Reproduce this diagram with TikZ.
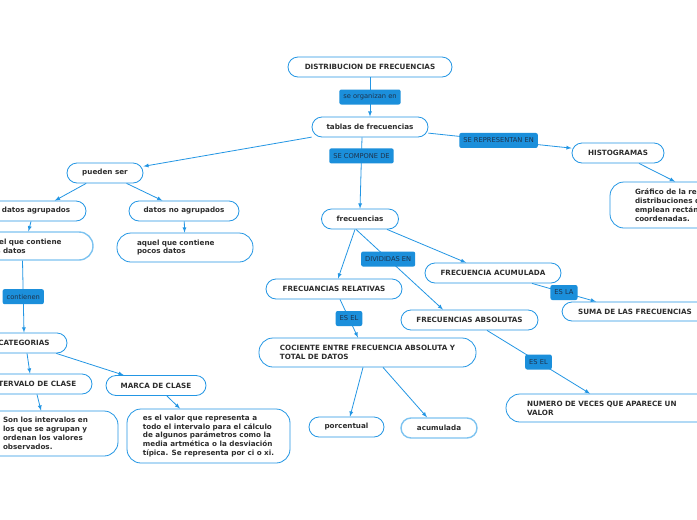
\documentclass[tikz,border=0pt]{standalone}
\usepackage{fontspec}
\setmainfont{DejaVu Sans}
\usetikzlibrary{arrows}

\definecolor{mapblue}{RGB}{35,150,228}
\definecolor{tagblue}{RGB}{27,143,219}
\definecolor{paleblue}{RGB}{125,195,240}
\definecolor{tagtext}{RGB}{30,50,75}
\definecolor{boxtext}{RGB}{45,45,45}

\tikzset{
	concept/.style={draw=mapblue, line width=0.8pt, rounded corners=10pt, fill=white, text=boxtext,
		font=\fontsize{7.2}{8.8}\selectfont\bfseries, minimum height=20pt, inner xsep=6pt, inner ysep=0pt},
	note/.style={concept, rounded corners=14pt, align=left},
	faded/.style={draw=paleblue, line width=1.4pt},
	tag/.style={fill=tagblue, rounded corners=2pt, text=tagtext, font=\fontsize{6.7}{8}\selectfont,
		minimum height=15pt, inner xsep=4pt, inner ysep=0pt},
	link/.style={draw=mapblue, line width=0.8pt, -latex},
}

\begin{document}
\begin{tikzpicture}[x=1pt, y=-1pt]

	\useasboundingbox (0,0) rectangle (697,520);
	\clip (0,0) rectangle (697,520);
	\fill[white] (0,0) rectangle (697,520);

	%% top
	\node[concept, minimum width=164pt] (dist) at (370,67) {DISTRIBUCION DE FRECUENCIAS};
	\node[concept, minimum width=116pt] (tablas) at (370,127) {tablas de frecuencias};

	%% left branch
	\node[concept, minimum width=76pt] (pueden) at (105,173) {pueden ser};
	\node[concept, minimum width=100pt] (agrup) at (36,211) {datos agrupados};
	\node[concept, minimum width=110pt] (noagrup) at (184,211) {datos no agrupados};
	\node[note, faded, minimum width=129pt, minimum height=28pt, text width=89pt] (muchos) at (28.5,246) {aquel que contiene\\más datos};
	\node[note, minimum width=136pt, minimum height=29pt, text width=96pt] (pocos) at (185,247.5) {aquel que contiene\\pocos datos};
	\node[concept, minimum width=86pt] (categ) at (24,343) {CATEGORIAS};
	\node[concept, minimum width=118pt] (interv) at (33,384) {INTERVALO DE CLASE};
	\node[concept, minimum width=100pt] (marca) at (156,385.5) {MARCA DE CLASE};
	\node[note, minimum width=135pt, minimum height=45pt, text width=95pt] (son) at (50.5,433.5) {Son los intervalos en\\los que se agrupan y\\ordenan los valores\\observados.};
	\node[note, minimum width=163pt, minimum height=54pt] (valor) at (208.5,436) {es el valor que representa a\\todo el intervalo para el cálculo\\de algunos parámetros como la\\media artmética o la desviación\\típica. Se representa por ci o xi.};

	%% middle
	\node[concept, minimum width=77pt] (frec) at (360,219) {frecuencias};
	\node[concept, minimum width=136pt] (relat) at (334,289) {FRECUANCIAS RELATIVAS};
	\node[concept, minimum width=136pt] (acum) at (493,273) {FRECUENCIA ACUMULADA};
	\node[concept, minimum width=137pt] (absol) at (469.5,320) {FRECUENCIAS ABSOLUTAS};
	\node[note, minimum width=217pt, minimum height=29pt] (cociente) at (367.5,352.5) {COCIENTE ENTRE FRECUENCIA ABSOLUTA Y\\TOTAL DE DATOS};
	\node[concept, minimum width=75pt] (porcent) at (346.5,427) {porcentual};
	\node[concept, faded, minimum width=76pt] (acumul) at (439,428) {acumulada};

	%% right
	\node[concept, minimum width=92pt] (histo) at (618,153) {HISTOGRAMAS};
	\node[note, minimum width=200pt, minimum height=46pt, text width=150pt] (grafico) at (710,205) {Gráfico de la representación de\\distribuciones de frecuencias en\\emplean rectángulos dentro de unas\\coordenadas.};
	\node[concept, minimum width=146pt, minimum height=19pt] (suma) at (635,311.5) {SUMA DE LAS FRECUENCIAS};
	\node[note, minimum width=222pt, minimum height=28pt, text width=180pt] (numero) at (617,408) {NUMERO DE VECES QUE APARECE UN\\VALOR};

	%%%%%%%%%%%%%%%%%%%%%%%%%%%%%%%%%%%%%%%%%%%%%%%%%%%%%%%
	%% links
	\draw[link] (dist) -- node[tag] {se organizan en} (tablas);
	\draw[link] ([xshift=-8pt]tablas.south) -- node[tag, pos=.26] {SE COMPONE DE} (frec.north);
	\draw[link] (tablas) -- node[tag, pos=.49] {SE REPRESENTAN EN} (histo);
	\draw[link] (tablas) -- (pueden);

	\draw[link] (pueden) -- (agrup);
	\draw[link] (pueden) -- (noagrup);
	\draw[link] ([xshift=-5pt]agrup.south) -- (muchos.north);
	\draw[link] (noagrup) -- (pocos);
	\draw[link] ([xshift=-6pt]muchos.south) -- node[tag] {contienen} (categ.north);
	\draw[link] ([xshift=3pt]categ.south) -- ([xshift=-3pt]interv.north);
	\draw[link] (categ) -- (marca);
	\draw[link] ([xshift=4pt]interv.south) -- ([xshift=-9.5pt]son.north);
	\draw[link] (marca) -- (valor);

	\draw[link] ([xshift=-5pt]frec.south) -- ([xshift=4pt]relat.north);
	\draw[link] ([xshift=-4pt]frec.south) -- node[tag, pos=.37] {DIVIDIDAS EN} ([xshift=-26.5pt]absol.north);
	\draw[link] ([xshift=27pt]frec.south) -- ([xshift=-27pt]acum.north);
	\draw[link] ([xshift=6pt]relat.south) -- node[tag] {ES EL} ([xshift=-9.5pt]cociente.north);
	\draw[link] ([xshift=-4.5pt]cociente.south) -- ([xshift=3.5pt]porcent.north);
	\draw[link] ([xshift=15.5pt]cociente.south) -- ([xshift=-12pt]acumul.north);

	\draw[link] ([xshift=21pt]histo.south) -- ([xshift=-35pt]grafico.north);
	\draw[link] ([xshift=39pt]acum.south) -- node[tag] {ES LA} ([xshift=-39pt]suma.north);
	\draw[link] ([xshift=17.5pt]absol.south) -- node[tag] {ES EL} ([xshift=-27pt]numero.north);

\end{tikzpicture}
\end{document}
